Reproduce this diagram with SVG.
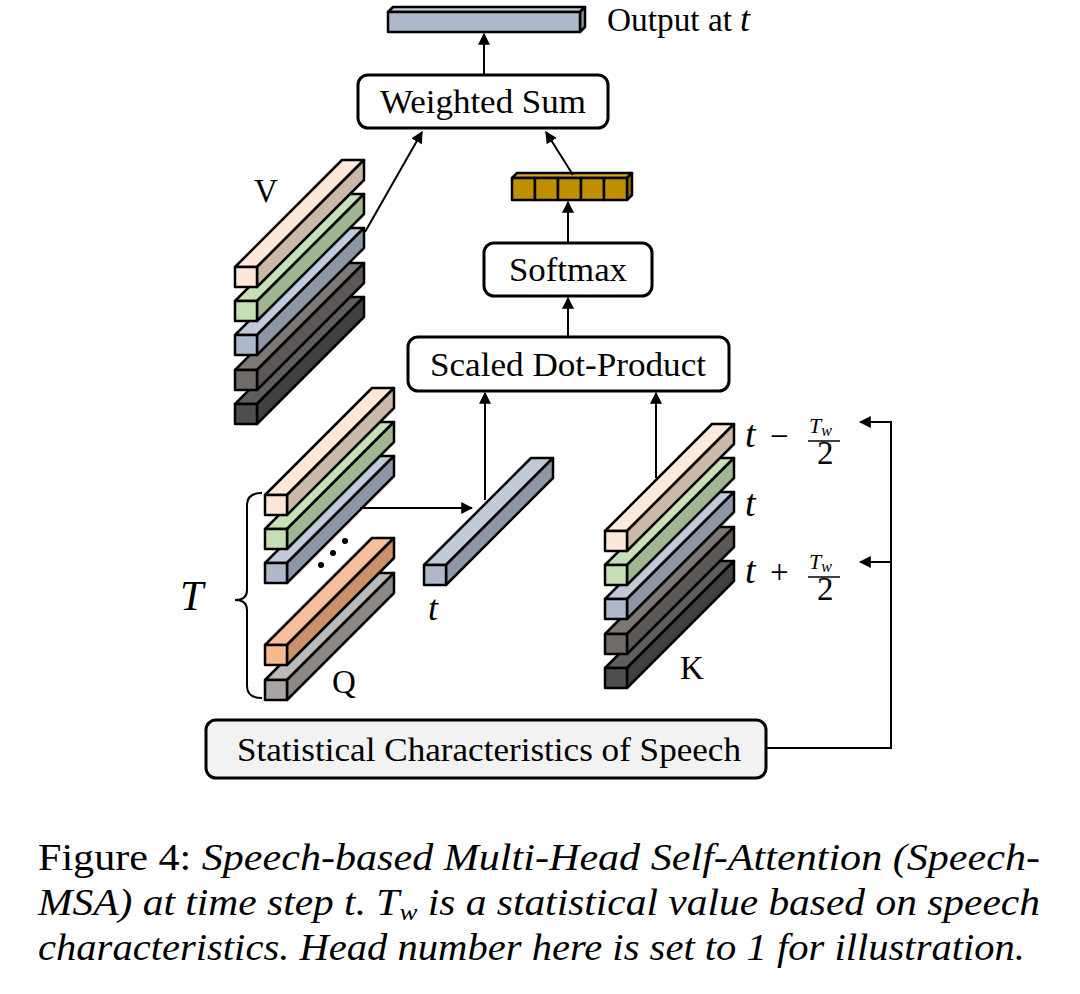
<svg xmlns="http://www.w3.org/2000/svg" width="1080" height="994" viewBox="0 0 1080 994">
<style>
.box{fill:#fff;stroke:#000;stroke-width:3}
.lbl{font-family:"Liberation Serif","Times New Roman",serif;font-size:33px;fill:#000}
.it{font-family:"Liberation Serif","Times New Roman",serif;font-style:italic;fill:#000}
.cap{font-family:"Liberation Serif","Times New Roman",serif;font-size:37px;fill:#000}
.bar *{stroke:#000;stroke-width:2.5;stroke-linejoin:round}
.ln{stroke:#000;stroke-width:2;fill:none}
</style>
<defs>
<marker id="ah" viewBox="0 0 10 10" refX="9" refY="5" markerWidth="6" markerHeight="6" orient="auto-start-reverse"><path d="M0,0L10,5L0,10z" fill="#000"/></marker>
<g id="pe" class="bar"><polygon points="0,0 107,-107 129,-107 22,0" fill="#fde9dc"/><polygon points="22,0 129,-107 129,-87 22,20" fill="#cbb8a9"/><rect x="0" y="0" width="22" height="20" fill="#fde7da"/></g>
<g id="gr" class="bar"><polygon points="0,0 107,-107 129,-107 22,0" fill="#c8e0b8"/><polygon points="22,0 129,-107 129,-87 22,20" fill="#9fb690"/><rect x="0" y="0" width="22" height="20" fill="#c5dfb4"/></g>
<g id="bl" class="bar"><polygon points="0,0 107,-107 129,-107 22,0" fill="#c0cad8"/><polygon points="22,0 129,-107 129,-87 22,20" fill="#8c97a5"/><rect x="0" y="0" width="22" height="20" fill="#adb9ca"/></g>
<g id="dg" class="bar"><polygon points="0,0 107,-107 129,-107 22,0" fill="#7c7876"/><polygon points="22,0 129,-107 129,-87 22,20" fill="#5c5857"/><rect x="0" y="0" width="22" height="20" fill="#6f6b69"/></g>
<g id="dd" class="bar"><polygon points="0,0 107,-107 129,-107 22,0" fill="#5e5e5e"/><polygon points="22,0 129,-107 129,-87 22,20" fill="#404040"/><rect x="0" y="0" width="22" height="20" fill="#4e4e4e"/></g>
<g id="or" class="bar"><polygon points="0,0 107,-107 129,-107 22,0" fill="#f6c19a"/><polygon points="22,0 129,-107 129,-87 22,20" fill="#c9906a"/><rect x="0" y="0" width="22" height="20" fill="#f4b98d"/></g>
<g id="lg" class="bar"><polygon points="0,0 107,-107 129,-107 22,0" fill="#bcbab8"/><polygon points="22,0 129,-107 129,-87 22,20" fill="#8b8886"/><rect x="0" y="0" width="22" height="20" fill="#a8a5a3"/></g>
</defs>

<g id="output-bar" class="bar">
<polygon points="388,12 393,7 585,7 580,12" fill="#c0cad8"/>
<polygon points="580,12 585,7 585,27 580,32" fill="#8c97a5"/>
<rect x="388" y="12" width="192" height="20" fill="#adb9ca"/>
</g>
<text class="lbl" x="607" y="31" textLength="125" lengthAdjust="spacingAndGlyphs">Output at</text>
<text class="it" x="740" y="31" font-size="36">t</text>

<g id="weighted-sum"><rect class="box" x="358" y="75" width="250" height="53" rx="10"/><text class="lbl" x="483" y="113" text-anchor="middle" textLength="206" lengthAdjust="spacingAndGlyphs">Weighted Sum</text></g>

<g id="softmax-out" class="bar">
<polygon points="512,178 517,173 632,173 627,178" fill="#d8a520"/>
<polygon points="627,178 632,173 632,195 627,200" fill="#9a7200"/>
<rect x="512" y="178" width="23" height="22" fill="#c08f00"/>
<rect x="535" y="178" width="23" height="22" fill="#c08f00"/>
<rect x="558" y="178" width="23" height="22" fill="#c08f00"/>
<rect x="581" y="178" width="23" height="22" fill="#c08f00"/>
<rect x="604" y="178" width="23" height="22" fill="#c08f00"/>
</g>

<g id="softmax"><rect class="box" x="484" y="243" width="168" height="53" rx="10"/><text class="lbl" x="568" y="281" text-anchor="middle" textLength="118" lengthAdjust="spacingAndGlyphs">Softmax</text></g>
<g id="sdp"><rect class="box" x="408" y="337" width="321" height="54" rx="10"/><text class="lbl" x="568" y="376" text-anchor="middle" textLength="276" lengthAdjust="spacingAndGlyphs">Scaled Dot-Product</text></g>
<g id="stat"><rect class="box" x="206" y="720" width="560" height="58" rx="10" style="fill:#f2f2f2"/><text class="lbl" x="489" y="761" text-anchor="middle" textLength="504" lengthAdjust="spacingAndGlyphs">Statistical Characteristics of Speech</text></g>

<g id="V">
<use href="#dd" x="235" y="404"/><use href="#dg" x="235" y="370"/><use href="#bl" x="235" y="335"/><use href="#gr" x="235" y="301"/><use href="#pe" x="235" y="267"/>
<text class="lbl" x="254" y="202" font-size="40">V</text>
</g>

<g id="Q">
<use href="#lg" x="265" y="680"/><use href="#or" x="265" y="645"/>
<use href="#bl" x="265" y="563"/><use href="#gr" x="265" y="529"/><use href="#pe" x="265" y="495"/>
<circle cx="321" cy="565" r="3"/><circle cx="333" cy="553" r="3"/><circle cx="345" cy="541" r="3"/>
<text class="lbl" x="332" y="693" font-size="40">Q</text>
<path class="ln" d="M262,493 Q247,493 247,505 L247,590 Q247,600 235,600 Q247,600 247,610 L247,686 Q247,698 262,698"/>
<text class="it" x="180" y="610" font-size="42">T</text>
</g>

<g id="t-bar"><use href="#bl" x="424" y="565"/><text class="it" x="428" y="620" font-size="36">t</text></g>

<g id="K">
<use href="#dd" x="605" y="668"/><use href="#dg" x="605" y="634"/><use href="#bl" x="605" y="599"/><use href="#gr" x="605" y="565"/><use href="#pe" x="605" y="531"/>
<text class="lbl" x="680" y="679" font-size="40">K</text>
<text class="it" x="745" y="447" font-size="38">t</text>
<text class="lbl" x="770" y="447" font-size="34">−</text>
<text class="it" x="809" y="433" font-size="22">T<tspan font-size="16" dy="3">w</tspan></text>
<line x1="808" y1="441" x2="840" y2="441" stroke="#000" stroke-width="1.5"/>
<text class="lbl" x="817" y="464" font-size="22">2</text>
<text class="it" x="745" y="516" font-size="38">t</text>
<text class="it" x="745" y="583" font-size="38">t</text>
<text class="lbl" x="770" y="583" font-size="34">+</text>
<text class="it" x="809" y="569" font-size="22">T<tspan font-size="16" dy="3">w</tspan></text>
<line x1="808" y1="577" x2="840" y2="577" stroke="#000" stroke-width="1.5"/>
<text class="lbl" x="817" y="600" font-size="22">2</text>
</g>

<g id="connectors">
<line class="ln" x1="484" y1="75" x2="484" y2="34" marker-end="url(#ah)"/>
<line class="ln" x1="365" y1="232" x2="422" y2="132" marker-end="url(#ah)"/>
<line class="ln" x1="573" y1="175" x2="546" y2="132" marker-end="url(#ah)"/>
<line class="ln" x1="568" y1="243" x2="568" y2="202" marker-end="url(#ah)"/>
<line class="ln" x1="568" y1="337" x2="568" y2="298" marker-end="url(#ah)"/>
<line class="ln" x1="360" y1="508" x2="472" y2="508" marker-end="url(#ah)"/>
<line class="ln" x1="485" y1="500" x2="485" y2="393" marker-end="url(#ah)"/>
<line class="ln" x1="656" y1="478" x2="656" y2="393" marker-end="url(#ah)"/>
<path class="ln" d="M766,748 H891 V422 H860" marker-end="url(#ah)"/>
<line class="ln" x1="891" y1="562" x2="860" y2="562" marker-end="url(#ah)"/>
</g>

<g id="caption">
<text class="cap" x="38" y="870" textLength="1002" lengthAdjust="spacingAndGlyphs">Figure 4:  <tspan font-style="italic">Speech-based Multi-Head Self-Attention (Speech-</tspan></text>
<text class="cap" x="38" y="915" textLength="1002" lengthAdjust="spacingAndGlyphs" font-style="italic">MSA) at time step t. T<tspan font-size="24" dy="5">w</tspan><tspan dy="-5"> is a statistical value based on speech</tspan></text>
<text class="cap" x="38" y="960" textLength="987" lengthAdjust="spacingAndGlyphs" font-style="italic">characteristics. Head number here is set to 1 for illustration.</text>
</g>
</svg>
